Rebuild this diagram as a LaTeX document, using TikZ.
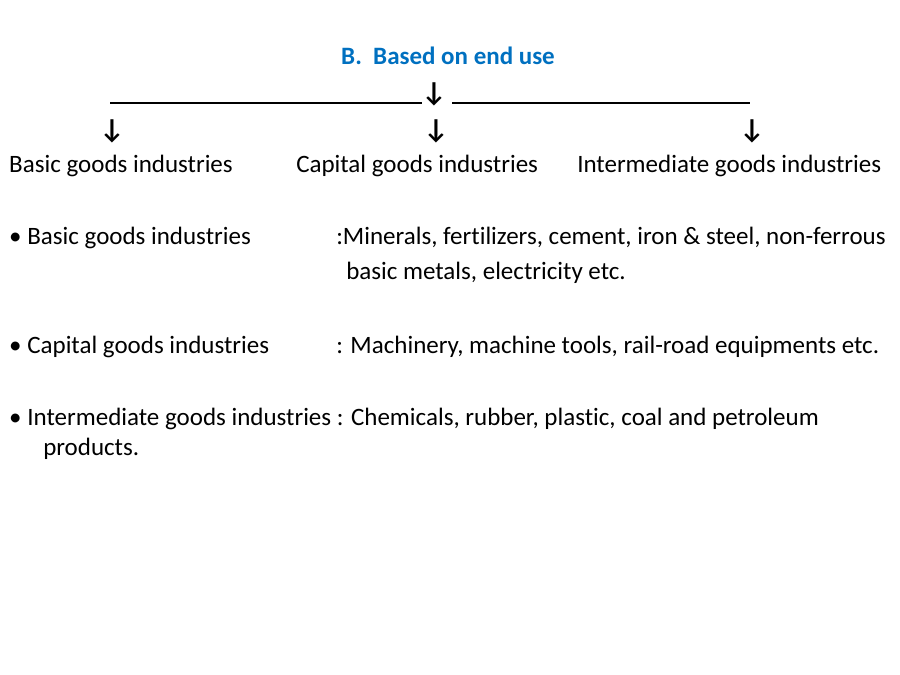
\documentclass[tikz,border=0pt]{standalone}
\usepackage{fontspec}
\setmainfont[Ligatures=NoCommon]{Carlito}
\definecolor{titleblue}{RGB}{0,112,192}
\begin{document}
\begin{tikzpicture}[x=0.8pt,y=-0.8pt,
  txt/.style={anchor=base west,inner sep=0pt,font=\fontsize{20}{24}\selectfont},
  arr/.style={anchor=base,inner sep=0pt,font=\bfseries\fontsize{22}{26}\selectfont},
  rul/.style={line width=1.5pt}]
\useasboundingbox (0,0) rectangle (900,675);
\node[anchor=base,inner sep=0pt,font=\bfseries\fontsize{20}{24}\selectfont,text=titleblue] (title) at (448,65) {B.\ \ Based on end use};
\coordinate (l1) at (110,103); \coordinate (l2) at (422,103);
\coordinate (r1) at (452,103); \coordinate (r2) at (750,103);
\draw[rul] (l1) -- (l2);
\draw[rul] (r1) -- (r2);
\node[arr] (a0) at (434,102) {↓};
\node[arr] (a1) at (112,139) {↓};
\node[arr] (a2) at (436,139) {↓};
\node[arr] (a3) at (752,139) {↓};
\node[txt] (c1) at (9,173) {Basic goods industries};
\node[txt] (c2) at (296,173) {Capital goods industries};
\node[txt] (c3) at (577,173) {Intermediate goods industries};
\node[txt] (b1) at (9,245) {• Basic goods industries};
\node[txt] (d1) at (336,245) {:Minerals, fertilizers, cement, iron \& steel, non-ferrous};
\node[txt] (d1b) at (346,280) {basic metals, electricity etc.};
\node[txt] (b2) at (9,353) {• Capital goods industries};
\node[txt] (d2) at (336,353) {: Machinery, machine tools, rail-road equipments etc.};
\node[txt] (b3) at (9,425) {• Intermediate goods industries : Chemicals, rubber, plastic, coal and petroleum};
\node[txt] (b3b) at (43,455) {products.};
\end{tikzpicture}
\end{document}
